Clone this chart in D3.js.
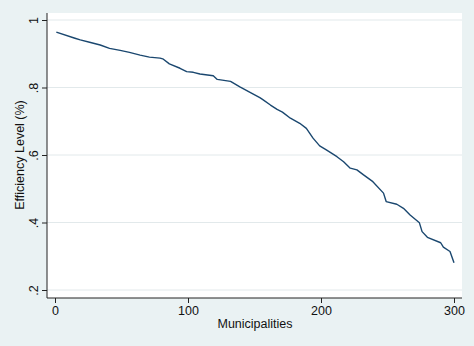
<!DOCTYPE html>
<html><head><meta charset="utf-8">
<script src="https://cdn.jsdelivr.net/npm/d3@7"></script>
<style>html,body{margin:0;padding:0;background:#eaf2f3;}svg{display:block;}</style>
</head><body>
<svg id="c" width="474" height="346"></svg>
<script>
const municipality = [1,15,19,26,34,41,49,56,64,71,79,81,86,94,99,104,109,119,122,132,139,147,154,156,162,167,171,177,184,189,194,199,204,212,217,222,227,232,239,247,249,257,262,267,274,276,280,290,292,297,300];
const efficiency = [0.964,0.946,0.941,0.934,0.926,0.916,0.910,0.904,0.896,0.890,0.887,0.885,0.870,0.857,0.847,0.845,0.840,0.835,0.824,0.818,0.802,0.785,0.770,0.765,0.748,0.735,0.727,0.709,0.694,0.679,0.650,0.627,0.615,0.595,0.580,0.561,0.556,0.541,0.521,0.487,0.462,0.454,0.442,0.422,0.399,0.373,0.356,0.340,0.327,0.314,0.281];
const xTicks = [0,100,200,300];
const yTicks = [0.2,0.4,0.6,0.8,1];
const yTickLabels = [".2",".4",".6",".8","1"];
const xTitle = "Municipalities";
const yTitle = "Efficiency Level (%)";

const svg = d3.select("#c");
const plot = {l:47, r:462, t:13, b:298};
const x = d3.scaleLinear().domain([0,300]).range([55,454]);
const y = d3.scaleLinear().domain([0.2,1]).range([290,20]);
const font = "'Liberation Sans', Arial, sans-serif";

svg.append("rect").attr("width",474).attr("height",346).attr("fill","#eaf2f3");
svg.append("rect").attr("x",plot.l).attr("y",plot.t).attr("width",plot.r-plot.l).attr("height",plot.b-plot.t).attr("fill","#ffffff");

// gridlines
svg.append("g").selectAll("line").data(yTicks).join("line")
  .attr("x1",plot.l).attr("x2",plot.r).attr("y1",d=>y(d)).attr("y2",d=>y(d))
  .attr("stroke","#e2e9eb").attr("stroke-width",1);

// y axis
const yAxis = svg.append("g").attr("transform",`translate(${plot.l},0)`)
  .call(d3.axisLeft(y).tickValues(yTicks).tickFormat((d,i)=>yTickLabels[i]).tickSize(5).tickSizeOuter(0));
yAxis.select(".domain").remove();
yAxis.append("line").attr("x1",0).attr("x2",0).attr("y1",plot.t).attr("y2",plot.b).attr("stroke","#222").attr("stroke-width",1);
yAxis.selectAll(".tick line").attr("stroke","#222");
yAxis.selectAll(".tick text")
  .attr("font-family",font).attr("font-size",12.5).attr("fill","#111")
  .attr("text-anchor","middle").attr("x",0).attr("dy",0)
  .attr("transform","translate(-9,0) rotate(-90)");

// x axis
const xAxis = svg.append("g").attr("transform",`translate(0,${plot.b})`)
  .call(d3.axisBottom(x).tickValues(xTicks).tickSize(5).tickSizeOuter(0));
xAxis.select(".domain").remove();
xAxis.append("line").attr("x1",plot.l).attr("x2",plot.r).attr("y1",0).attr("y2",0).attr("stroke","#222").attr("stroke-width",1);
xAxis.selectAll(".tick line").attr("stroke","#222");
xAxis.selectAll(".tick text").attr("font-family",font).attr("font-size",12.5).attr("fill","#111").attr("y",8);

// titles
svg.append("text").attr("x",255).attr("y",328).attr("text-anchor","middle")
  .attr("font-family",font).attr("font-size",12.5).attr("fill","#111").text(xTitle);
svg.append("text").attr("transform","translate(24,155) rotate(-90)").attr("text-anchor","middle")
  .attr("font-family",font).attr("font-size",12.5).attr("fill","#111").text(yTitle);

// line
const line = d3.line().x((d,i)=>x(municipality[i])).y(d=>y(d));
svg.append("path").datum(efficiency).attr("d",line)
  .attr("fill","none").attr("stroke","#1a476f").attr("stroke-width",1.4).attr("stroke-linejoin","round");
</script>
</body></html>
